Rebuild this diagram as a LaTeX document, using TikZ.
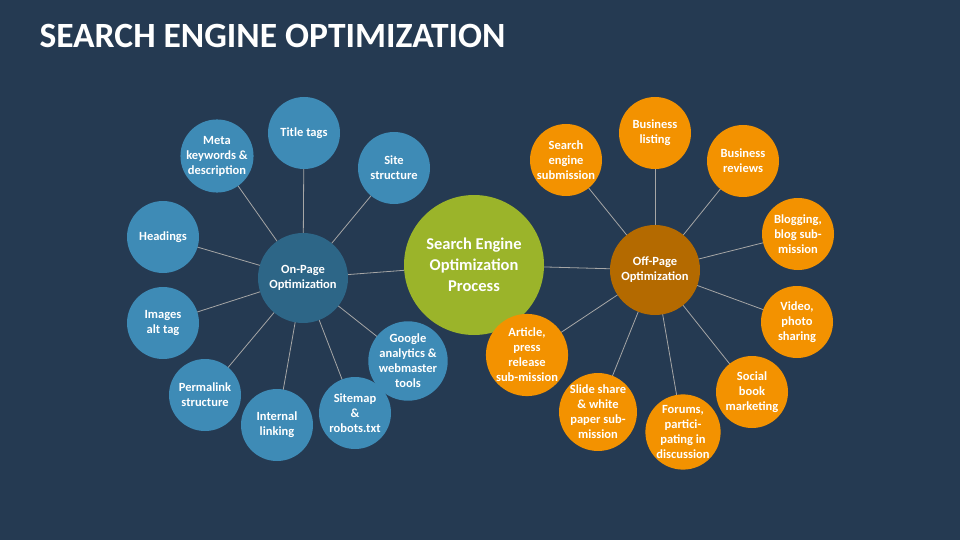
\documentclass[tikz,border=0pt]{standalone}
\usepackage{fontspec}
\setmainfont{Carlito}
\pgfdeclarelayer{bg}
\pgfdeclarelayer{links}
\pgfsetlayers{bg,links,main}
\definecolor{navy}{HTML}{253A52}
\definecolor{hubgreen}{HTML}{9BB42A}
\definecolor{onhub}{HTML}{2D6687}
\definecolor{onsat}{HTML}{3E8BB6}
\definecolor{offhub}{HTML}{B46A00}
\definecolor{offsat}{HTML}{F39200}
\tikzset{
  sat/.style={circle,minimum size=72pt,inner sep=0pt,align=center,text=white,
    font=\fontsize{12.5}{15}\selectfont\bfseries},
  onsat/.style={sat,fill=onsat},
  offsat/.style={sat,fill=offsat},
  hub/.style={sat,minimum size=90pt},
  link/.style={draw=gray!70,line width=0.8pt}
}
\begin{document}
\begin{tikzpicture}[x=1pt,y=-1pt]
\begin{pgfonlayer}{bg}
\fill[navy] (0,0) rectangle (960,540);
\end{pgfonlayer}
\useasboundingbox (0,0) rectangle (960,540);
\node[anchor=west,text=white,font=\fontsize{35.5}{38}\selectfont\bfseries] (title) at (36,36) {SEARCH ENGINE OPTIMIZATION};
% centre
\node[hub,minimum size=140pt,fill=hubgreen,font=\fontsize{16.5}{21}\selectfont\bfseries] (seo) at (474,265) {Search Engine\\Optimization\\Process};
% on-page
\node[hub,fill=onhub] (on) at (303,278) {On-Page\\Optimization};
\node[onsat] (on1) at (304,133) {Title tags};
\node[onsat] (on2) at (217,156) {Meta\\keywords \&\\description};
\node[onsat] (on3) at (394,168) {Site\\structure};
\node[onsat] (on4) at (163,237) {Headings};
\node[onsat] (on5) at (163,323) {Images\\alt tag};
\node[onsat] (on6) at (205,395) {Permalink\\structure};
\node[onsat] (on7) at (277,425) {Internal\\linking};
\node[onsat] (on8) at (355,413) {Sitemap\\\&\\robots.txt};
\node[onsat] (on9) at (408,361) {Google\\analytics \&\\webmaster\\tools};
% off-page
\node[hub,fill=offhub] (off) at (655,270) {Off-Page\\Optimization};
\node[offsat] (off1) at (566,160) {Search\\engine\\submission};
\node[offsat] (off2) at (655,133) {Business\\listing};
\node[offsat] (off3) at (743,161) {Business\\reviews};
\node[offsat] (off4) at (798,234) {Blogging,\\blog sub-\\mission};
\node[offsat] (off5) at (797,322) {Video,\\photo\\sharing};
\node[offsat] (off6) at (752,392) {Social\\book\\marketing};
\node[offsat] (off7) at (683,432) {Forums,\\partici-\\pating in\\discussion};
\node[offsat] (off8) at (598,412) {Slide share\\\& white\\paper sub-\\mission};
\node[offsat] (off9) at (527,355) {Article,\\press\\release\\sub-mission};
\begin{pgfonlayer}{links}
\draw[link] (on) -- (seo) -- (off);
\foreach \i in {1,...,9}{
  \draw[link] (on.center) -- (on\i.center);
  \draw[link] (off.center) -- (off\i.center);
}
\end{pgfonlayer}
\end{tikzpicture}
\end{document}
